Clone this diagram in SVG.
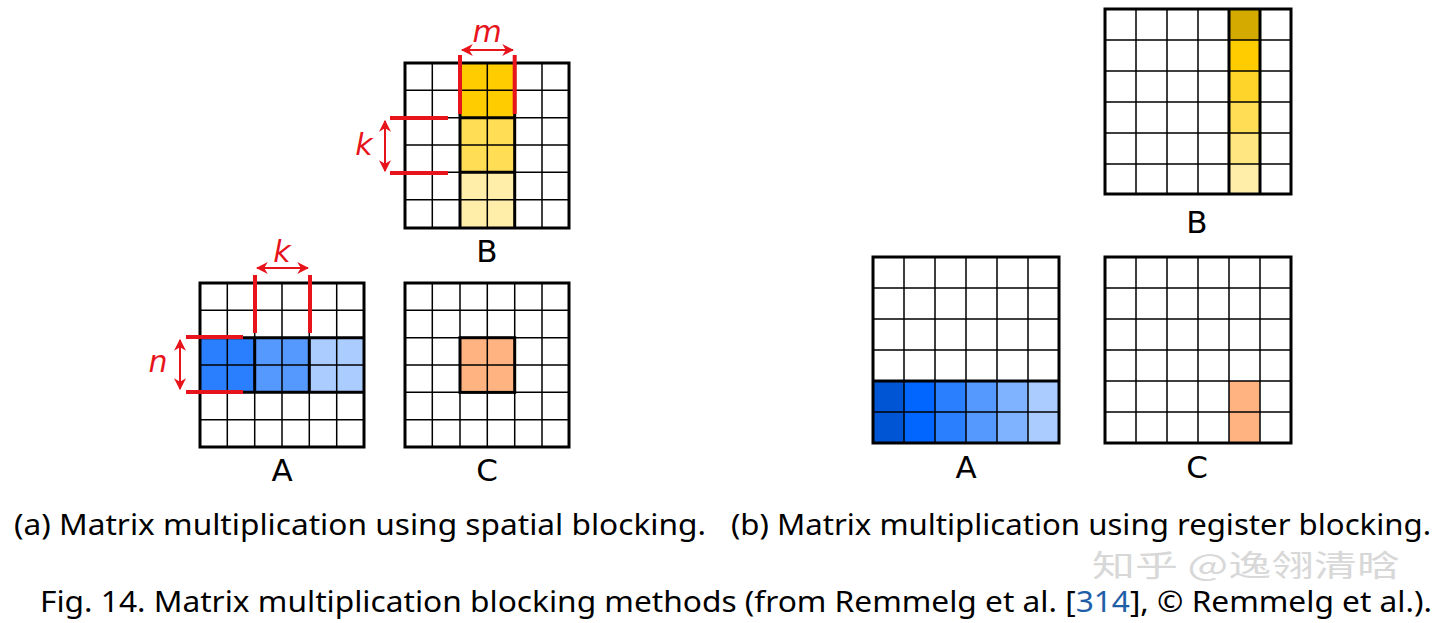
<svg xmlns="http://www.w3.org/2000/svg" width="1440" height="623" viewBox="0 0 1440 623">
<style>
.g{fill:none;stroke:#000;stroke-width:1.5}
.o{fill:none;stroke:#000;stroke-width:3}
.r{stroke:#e8141c;stroke-width:4;fill:none}
.a{stroke:#e8141c;stroke-width:2;fill:none;marker-start:url(#ah);marker-end:url(#ah)}
.lb{font-family:"DejaVu Sans",sans-serif;font-size:31px;text-anchor:middle}
.rl{font-family:"DejaVu Sans",sans-serif;font-size:30px;font-style:italic;fill:#e8141c;text-anchor:middle}
.cap{font-family:"Noto Sans","Open Sans",sans-serif;font-size:29px}
</style>
<defs>
<marker id="ah" viewBox="0 0 10 10" refX="9" refY="5" markerWidth="6" markerHeight="6" orient="auto-start-reverse"><path d="M0,0 L10,5 L0,10 L3,5 z" fill="#e8141c"/></marker>
</defs>
<rect width="1440" height="623" fill="#fff"/>

<g id="aB">
<rect x="460" y="63" width="54.7" height="54.7" fill="#ffcc00"/>
<rect x="460" y="117.7" width="54.7" height="54.7" fill="#ffdd55"/>
<rect x="460" y="172.3" width="54.7" height="54.7" fill="#ffeeaa"/>
<path class="g" d="M432.3,63V228M460,63V228M487.3,63V228M514.7,63V228M542,63V228M405,90.3H569M405,117.7H569M405,145H569M405,172.3H569M405,199.7H569"/>
<rect class="o" x="405" y="63" width="164" height="165"/>
<path class="o" d="M460,117.7H514.7M460,172.3H514.7M460,63V228M514.7,63V228"/>
<path class="r" d="M460,55V114M514.7,55V114M390,118H448M390,173H448"/>
<path class="a" d="M462,50H513"/>
<path class="a" d="M385,121V171"/>
<text class="rl" x="487" y="42">m</text>
<text class="rl" x="364" y="155">k</text>
<text class="lb" x="487" y="262">B</text>
</g>

<g id="aA">
<rect x="200" y="337.7" width="54.7" height="54.7" fill="#2a7fff"/>
<rect x="254.7" y="337.7" width="54.7" height="54.7" fill="#5599ff"/>
<rect x="309.3" y="337.7" width="54.7" height="54.7" fill="#aaccff"/>
<path class="g" d="M227.3,283V447M254.7,283V447M282,283V447M309.3,283V447M336.7,283V447M200,310.3H364M200,337.7H364M200,365H364M200,392.3H364M200,419.7H364"/>
<rect class="o" x="200" y="283" width="164" height="164"/>
<path class="o" d="M200,337.7H364M200,392.3H364M254.7,337.7V392.3M309.3,337.7V392.3"/>
<path class="r" d="M255,275V333M310,275V333M186,337H243M186,392H243"/>
<path class="a" d="M257,268H308"/>
<path class="a" d="M180,340V389"/>
<text class="rl" x="282" y="262">k</text>
<text class="rl" x="158" y="372">n</text>
<text class="lb" x="282" y="481">A</text>
</g>

<g id="aC">
<rect x="460" y="337.7" width="54.7" height="54.7" fill="#ffb380"/>
<path class="g" d="M432.3,283V447M460,283V447M487.3,283V447M514.7,283V447M542,283V447M405,310.3H569M405,337.7H569M405,365H569M405,392.3H569M405,419.7H569"/>
<rect class="o" x="405" y="283" width="164" height="164"/>
<rect class="o" x="460" y="337.7" width="54.7" height="54.7"/>
<text class="lb" x="487" y="481">C</text>
</g>

<g id="bB">
<rect x="1229" y="9" width="31" height="31" fill="#d4aa00"/>
<rect x="1229" y="40" width="31" height="31" fill="#ffcc00"/>
<rect x="1229" y="71" width="31" height="31" fill="#ffd42a"/>
<rect x="1229" y="102" width="31" height="31" fill="#ffdd55"/>
<rect x="1229" y="133" width="31" height="31" fill="#ffe680"/>
<rect x="1229" y="164" width="31" height="30" fill="#ffeeaa"/>
<path class="g" d="M1136,9V194M1167,9V194M1198,9V194M1229,9V194M1260,9V194M1105,40H1291M1105,71H1291M1105,102H1291M1105,133H1291M1105,164H1291"/>
<rect class="o" x="1105" y="9" width="186" height="185"/>
<path class="o" d="M1229,9V194M1260,9V194"/>
<text class="lb" x="1197" y="233">B</text>
</g>

<g id="bA">
<rect x="873" y="381" width="31" height="62" fill="#0055d4"/>
<rect x="904" y="381" width="31" height="62" fill="#0066ff"/>
<rect x="935" y="381" width="31" height="62" fill="#2a7fff"/>
<rect x="966" y="381" width="31" height="62" fill="#5599ff"/>
<rect x="997" y="381" width="31" height="62" fill="#80b3ff"/>
<rect x="1028" y="381" width="31" height="62" fill="#aaccff"/>
<path class="g" d="M904,257V443M935,257V443M966,257V443M997,257V443M1028,257V443M873,288H1059M873,319H1059M873,350H1059M873,381H1059M873,412H1059"/>
<rect class="o" x="873" y="257" width="186" height="186"/>
<path class="o" d="M873,381H1059"/>
<text class="lb" x="966" y="478">A</text>
</g>

<g id="bC">
<rect x="1229" y="381" width="31" height="62" fill="#ffb380"/>
<path class="g" d="M1136,257V443M1167,257V443M1198,257V443M1229,257V443M1260,257V443M1105,288H1291M1105,319H1291M1105,350H1291M1105,381H1291M1105,412H1291"/>
<rect class="o" x="1105" y="257" width="186" height="186"/>
<text class="lb" x="1197" y="478">C</text>
</g>

<g id="connectors"></g>

<text class="cap" x="14" y="535" textLength="692" lengthAdjust="spacingAndGlyphs">(a) Matrix multiplication using spatial blocking.</text>
<text class="cap" x="731" y="535" textLength="700" lengthAdjust="spacingAndGlyphs">(b) Matrix multiplication using register blocking.</text>
<text x="1092" y="576" font-family="Noto Sans CJK SC, sans-serif" font-size="30" fill="#d8d8d8" textLength="308" lengthAdjust="spacingAndGlyphs">知乎 @逸翎清晗</text>
<text class="cap" x="40" y="612" textLength="1392" lengthAdjust="spacingAndGlyphs">Fig. 14.  Matrix multiplication blocking methods (from Remmelg et al. [<tspan fill="#1f5fa8">314</tspan>], © Remmelg et al.).</text>
</svg>
